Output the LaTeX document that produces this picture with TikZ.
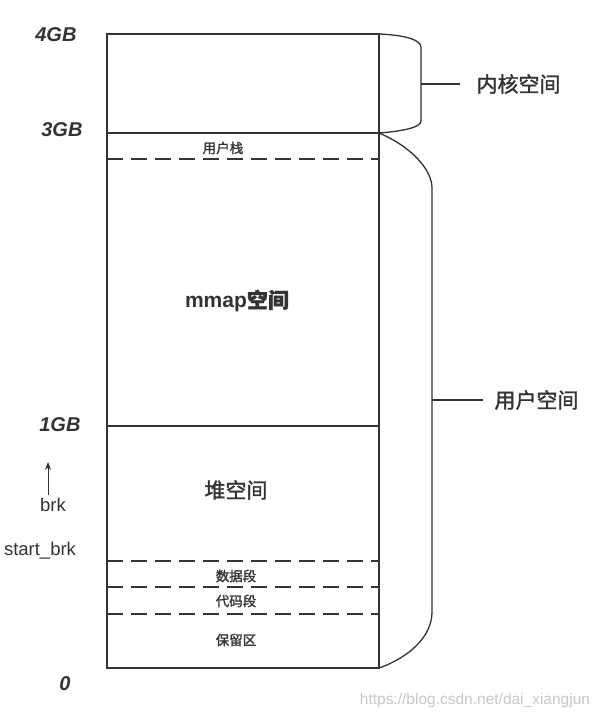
\documentclass[tikz,border=0pt]{standalone}
\usepackage{fontspec}
\setmainfont{Liberation Sans}
\newfontfamily\cjk[FakeBold=1.6]{Noto Sans CJK SC}
\usetikzlibrary{positioning,arrows.meta}

\definecolor{inkgray}{HTML}{333333}
\tikzset{
    memline/.style={line width=1.6pt, draw=inkgray},
    segline/.style={memline, dash pattern=on 16pt off 8pt},
    addr/.style={text=inkgray, font=\fontsize{20}{20}\selectfont\bfseries\itshape},
    ptr/.style={text=inkgray, font=\fontsize{18.5}{19}\selectfont},
    area/.style={text=inkgray, font=\cjk\fontsize{21}{22}\selectfont},
    seg/.style={text=inkgray, font=\cjk\fontsize{13.5}{14}\selectfont},
}

\begin{document}
\begin{tikzpicture}[x=1pt,y=-1pt]
    \useasboundingbox (0,0) rectangle (602,719);

    % Adressraum (Kasten)
    \draw[memline] (107,34) rectangle (379,668);
    \draw[memline] (107,133) -- (379,133);
    \draw[memline] (107,426) -- (379,426);
    \draw[segline] (107,159) -- (379,159);
    \draw[segline] (107,561) -- (379,561);
    \draw[segline] (107,587) -- (379,587);
    \draw[segline] (107,614) -- (379,614);

    % Adressen links
    \node[addr, anchor=east] (g4) at (80,35) {4GB};
    \node[addr, anchor=east] (g3) at (86,130) {3GB};
    \node[addr, anchor=east] (g1) at (84,425) {1GB};
    \node[addr] (g0) at (65,684) {0};

    % brk und start_brk
    \node[ptr] (brk) at (53,505) {brk};
    \coordinate (brktip) at (48,462);
    \draw[-{Stealth[length=8pt,width=6pt]}, line width=1pt, draw=inkgray]
        (brk.north -| brktip) -- (brktip);
    \node[ptr] (startbrk) at (40,551) {start\_brk};

    % Bereiche im Kasten
    \node[seg] (stack) at (223,148) {用户栈};
    \node[area] (mmap) at (237,301) {\fontspec{Liberation Sans}\bfseries mmap\cjk 空间};
    \node[area] (heap) at (236,490) {堆空间};
    \node[seg] (data) at (236,576) {数据段};
    \node[seg] (code) at (236,601) {代码段};
    \node[seg] (resv) at (236,640) {保留区};

    % Klammer Kernel
    \draw[memline, line width=1.3pt] (379,34) .. controls (405,35) and (421,40) .. (421,47)
        -- (421,121) .. controls (421,127) and (405,131) .. (379,133);
    \coordinate (kmid) at (421,84);
    \node[area, anchor=west] (kernel) at (473,84) {内核空间};
    \draw[memline, line width=1.3pt, shorten >=13pt] (kmid) -- (kernel.west);

    % Klammer User
    \draw[memline, line width=1.3pt] (379,133) .. controls (412,147) and (432,170) .. (432,188)
        -- (432,612) .. controls (432,636) and (410,657) .. (379,668);
    \coordinate (umid) at (432,400);
    \node[area, anchor=west] (user) at (491,400) {用户空间};
    \draw[memline, line width=1.3pt, shorten >=8pt] (umid) -- (user.west);

    % Wasserzeichen
    \node[text=black!22, font=\fontsize{15.5}{16}\selectfont] (mark) at (475,700)
        {https://blog.csdn.net/dai\_xiangjun};
\end{tikzpicture}
\end{document}
